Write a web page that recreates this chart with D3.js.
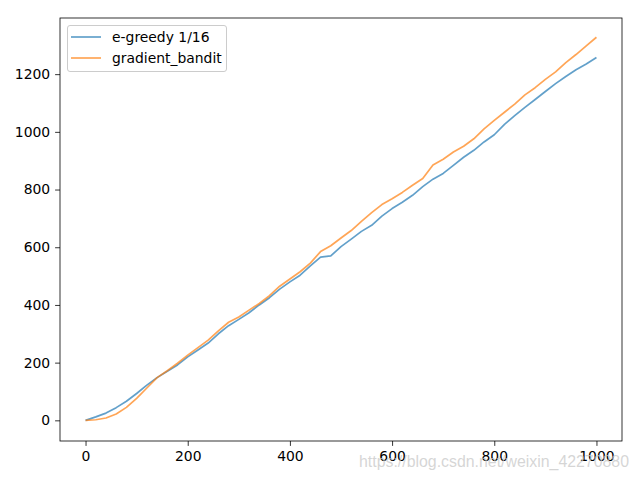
<!DOCTYPE html>
<html><head><meta charset="utf-8">
<script src="https://cdn.jsdelivr.net/npm/d3@7"></script>
<style>body{margin:0;background:#fff}svg{display:block}</style>
</head><body>
<script>
const steps = [0,20,40,60,80,100,120,140,160,180,200,220,240,260,280,300,320,340,360,380,400,420,440,460,480,500,520,540,560,580,600,620,640,660,680,700,720,740,760,780,800,820,840,860,880,900,920,940,960,980,1000];
const egreedy = [0,12,25,44,66,93,122,148,170,192,220,244,268,300,328,350,373,400,425,455,480,503,535,566,570,602,628,655,676,708,734,756,780,810,836,856,884,912,936,965,990,1026,1056,1085,1112,1140,1167,1192,1215,1235,1258];
const gradient = [0,2,8,22,45,76,112,148,172,198,226,252,278,310,340,358,382,405,432,465,490,515,545,585,605,632,658,690,720,748,768,790,815,838,885,905,930,950,976,1010,1040,1068,1096,1128,1153,1182,1208,1240,1268,1298,1328];
const seriesNames = ["e-greedy 1/16","gradient_bandit"];
const xTicks = [0,200,400,600,800,1000];
const yTicks = [0,200,400,600,800,1000,1200];

const W=640,H=480, L=60, R=622, T=18, B=441;
const svg = d3.select("body").append("svg").attr("width",W).attr("height",H);
const font = "DejaVu Sans, sans-serif";
const x = d3.scaleLinear().domain([-50,1050]).range([L,R]);
const ymin = -5, ymax = 1328, pad=(ymax-ymin)*0.05;
const y = d3.scaleLinear().domain([ymin-pad, ymax+pad]).range([B,T]);

const colors = ["#1f77b4","#ff7f0e"];
const data = [egreedy, gradient];
const line = d3.line().x((d,i)=>x(steps[i])).y(d=>y(d));
data.forEach((arr,k)=>{
  svg.append("path").datum(arr).attr("d",line).attr("fill","none")
    .attr("stroke",colors[k]).attr("stroke-opacity",0.7).attr("stroke-width",1.7)
    .attr("stroke-linejoin","round");
});

const xa = svg.append("g").attr("transform",`translate(0,${B})`)
  .call(d3.axisBottom(x).tickValues(xTicks).tickSize(4.9).tickPadding(4.9).tickFormat(d3.format("d")));
const ya = svg.append("g").attr("transform",`translate(${L},0)`)
  .call(d3.axisLeft(y).tickValues(yTicks).tickSize(4.9).tickPadding(4.9).tickFormat(d3.format("d")));
[xa,ya].forEach(g=>{
  g.select(".domain").remove();
  g.selectAll("line").attr("stroke","#000").attr("stroke-width",0.8);
  g.selectAll("text").attr("font-family",font).attr("font-size",13.9).attr("fill","#000");
});
svg.append("rect").attr("x",L).attr("y",T).attr("width",R-L).attr("height",B-T)
  .attr("fill","none").attr("stroke","#000").attr("stroke-width",0.8);

// legend
const lg = svg.append("g");
lg.append("rect").attr("x",67.5).attr("y",25.5).attr("width",159).attr("height",46).attr("rx",2.5)
  .attr("fill","#fff").attr("fill-opacity",0.8).attr("stroke","#ccc").attr("stroke-width",1);
seriesNames.forEach((n,i)=>{
  const yy = 37 + i*21;
  lg.append("line").attr("x1",71).attr("x2",101).attr("y1",yy).attr("y2",yy)
    .attr("stroke",colors[i]).attr("stroke-opacity",0.7).attr("stroke-width",1.7);
  lg.append("text").attr("x",112).attr("y",yy).attr("dy","0.35em").text(n)
    .attr("font-family",font).attr("font-size",13.9).attr("fill","#000");
});

svg.append("text").attr("x",359).attr("y",467).text("https://blog.csdn.net/weixin_42270880")
  .attr("font-family","Liberation Sans, Arial, sans-serif").attr("font-size",16)
  .attr("textLength",270).attr("lengthAdjust","spacingAndGlyphs")
  .attr("fill","#c8c8c8").attr("fill-opacity",0.75);
</script>
</body></html>
